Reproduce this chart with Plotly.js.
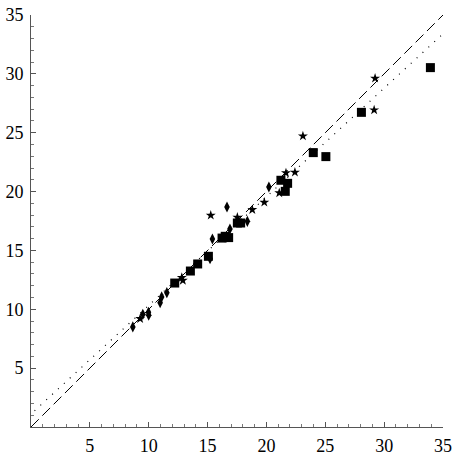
<!DOCTYPE html>
<html><head><meta charset="utf-8">
<script src="https://cdn.plot.ly/plotly-3.0.1.min.js"></script>
<style>html,body{margin:0;padding:0;background:#fff}#c{width:457px;height:457px}</style>
</head><body><div id="c"></div>
<script>
const squareX = [33.93, 28.07, 25.05, 23.98, 21.23, 21.80, 21.60, 17.53, 17.81, 16.23, 16.50, 16.79, 15.07, 14.16, 13.54, 12.21];
const squareY = [30.53, 26.73, 22.97, 23.31, 20.96, 20.70, 20.02, 17.33, 17.33, 16.05, 16.20, 16.09, 14.50, 13.85, 13.25, 12.23];
const diamondX = [8.65, 9.50, 9.98, 10.00, 10.97, 11.10, 11.54, 15.41, 16.65, 16.90, 18.38, 20.21, 15.21];
const diamondY = [8.50, 9.57, 9.75, 9.50, 10.56, 11.05, 11.41, 15.97, 18.69, 16.82, 17.47, 20.39, 14.30];
const starX = [9.27, 12.81, 12.90, 15.27, 17.53, 18.80, 19.82, 21.09, 21.66, 22.42, 23.10, 29.23, 29.15];
const starY = [9.20, 12.69, 12.45, 17.98, 17.81, 18.46, 19.09, 19.88, 21.58, 21.64, 24.72, 29.62, 26.93];
const identX = [0, 35];
const identY = [0, 35];
const fitX = [0.3, 35];
const fitY = [1.38, 33.4];
const tickVals = [5, 10, 15, 20, 25, 30, 35];

const traces = [
  {x: identX, y: identY, mode: 'lines', line: {color: '#000', width: 1, dash: '11px,5px'}, hoverinfo: 'skip'},
  {x: fitX, y: fitY, mode: 'lines', line: {color: '#000', width: 1.2, dash: '1px,7px'}, hoverinfo: 'skip'},
  {x: diamondX, y: diamondY, mode: 'markers', marker: {symbol: 'diamond-tall', size: 8, color: '#000'}},
  {x: starX, y: starY, mode: 'markers', marker: {symbol: 'star', size: 7.5, color: '#000'}},
  {x: squareX, y: squareY, mode: 'markers', marker: {symbol: 'square', size: 9, color: '#000'}}
];

const axisCommon = {
  range: [0, 35], tickvals: tickVals, ticktext: tickVals.map(String),
  ticks: 'inside', ticklen: 5, tickwidth: 1, tickcolor: '#555',
  showline: true, linecolor: '#555', linewidth: 1,
  showgrid: false, zeroline: false,
  minor: {dtick: 1, ticks: 'inside', ticklen: 3, tickcolor: '#777', showgrid: false},
  tickfont: {family: '"Times New Roman", "Liberation Serif", serif', size: 18, color: '#000'},
  fixedrange: true
};

const layout = {
  width: 457, height: 457,
  margin: {l: 31, r: 14, t: 15, b: 30, pad: 0},
  showlegend: false,
  paper_bgcolor: '#fff', plot_bgcolor: '#fff',
  xaxis: Object.assign({}, axisCommon, {ticklabelstandoff: 2}),
  yaxis: Object.assign({}, axisCommon, {ticklabelstandoff: 3})
};

Plotly.newPlot('c', traces, layout, {staticPlot: true, displayModeBar: false});
</script></body></html>
